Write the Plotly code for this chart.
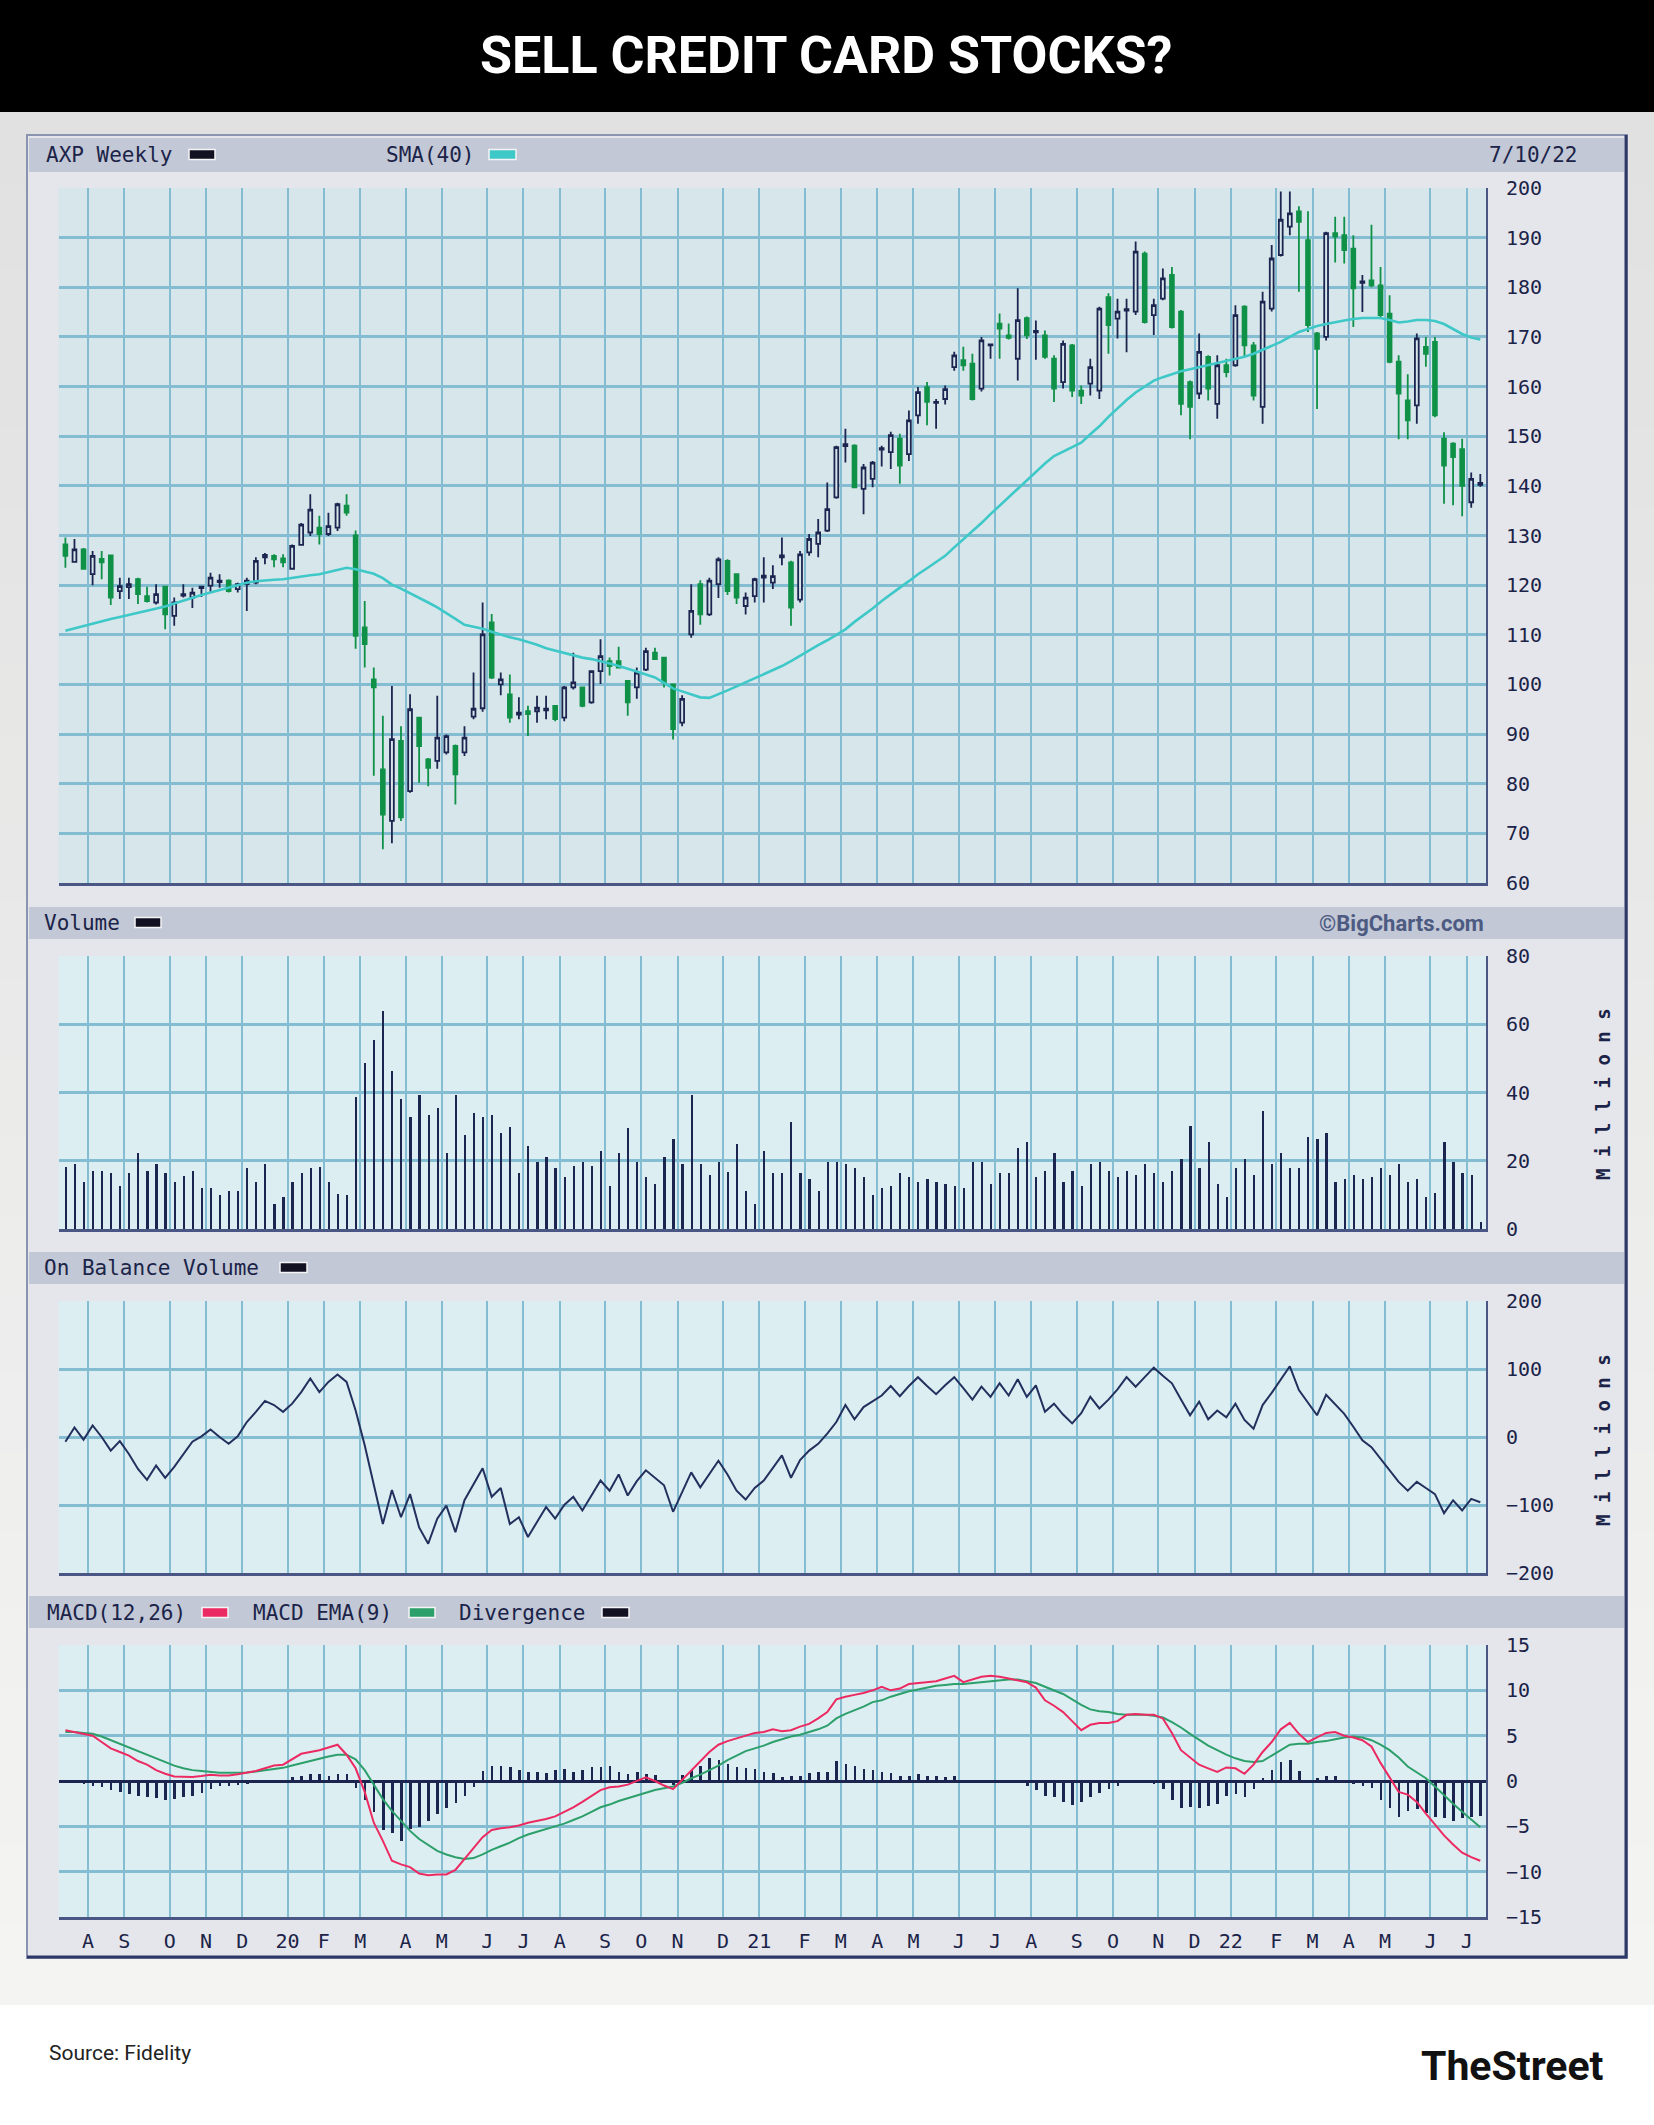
import plotly.graph_objects as go
import pandas as pd

W, H = 1654, 2125


def px(x):
    return x / W


def py(y):
    return 1 - y / H


# ---------------- data ----------------
weeks = pd.date_range("2019-07-14", "2022-07-10", freq="W-SUN")

open_ = [128.2,124.7,127.2,122.2,125.3,126.0,118.8,119.6,121.2,117.8,
         116.5,119.7,113.8,117.9,117.5,119.4,119.9,120.6,120.9,119.2,
         120.2,120.5,125.6,125.9,125.4,123.3,128.1,130.6,131.6,130.3,
         131.6,136.0,130.0,111.5,101.0,82.9,72.5,88.6,78.5,93.3,
         84.9,84.6,86.3,87.6,86.3,93.5,95.2,112.5,100.0,98.0,
         93.9,94.6,94.6,94.8,95.7,93.3,99.4,99.4,96.4,102.7,
         104.7,104.7,100.7,99.4,103.0,106.4,105.4,100.0,92.3,110.1,
         120.2,114.1,120.2,124.9,122.2,115.8,117.8,121.5,120.5,125.6,
         124.6,117.1,126.6,128.3,131.0,137.7,148.0,148.1,139.4,141.4,
         147.3,146.8,149.5,146.4,154.2,159.9,156.7,157.5,163.9,165.3,
         164.6,159.6,168.3,172.7,170.3,165.6,173.8,170.9,170.3,165.6,
         160.9,168.3,159.2,160.6,159.2,178.0,173.7,175.3,175.1,186.8,
         174.4,177.7,182.5,175.1,160.9,158.6,166.0,156.5,164.3,164.3,
         176.1,168.3,155.9,175.7,186.5,192.2,195.3,189.5,170.7,170.0,
         190.9,190.5,187.8,180.9,181.4,180.4,174.7,165.0,157.2,156.2,
         168.0,169.0,149.5,148.5,147.4,136.7,140.2]

high = [129.6,129.3,127.5,126.9,126.9,126.1,121.5,121.5,121.5,119.7,
        120.2,119.9,117.5,120.2,119.5,119.9,122.5,122.2,121.2,120.5,
        121.5,125.6,126.5,126.2,126.2,128.2,132.5,138.3,134.0,134.6,
        136.6,138.3,131.0,116.8,103.4,93.7,99.7,91.6,98.0,93.3,
        85.2,97.7,89.9,87.9,91.6,102.4,116.5,114.2,102.4,102.0,
        97.4,95.7,97.7,97.7,95.7,99.7,106.4,99.4,102.7,109.1,
        105.4,107.6,100.7,103.4,107.4,107.4,105.4,100.0,97.8,120.2,
        121.0,121.5,125.6,125.2,122.2,118.5,121.5,125.6,124.0,129.6,
        124.9,126.9,130.3,133.3,140.7,148.1,151.5,148.4,144.4,145.0,
        148.1,150.9,150.5,155.2,159.9,160.9,157.5,160.2,167.0,168.0,
        166.6,170.0,168.6,174.7,172.7,179.8,174.1,173.3,171.3,166.3,
        169.3,168.6,160.2,165.6,176.1,178.8,177.7,177.7,189.2,187.2,
        177.7,183.8,184.1,175.4,161.2,170.7,166.3,166.3,165.6,176.4,
        176.4,169.0,179.1,188.5,199.3,199.3,196.3,195.3,171.0,191.2,
        194.2,194.2,190.5,182.5,192.6,184.1,178.4,166.3,162.5,170.7,
        170.0,170.0,150.8,148.8,149.5,142.7,142.4]

low = [123.5,124.6,123.1,120.0,121.2,116.0,117.2,117.2,116.2,116.5,
       116.1,111.1,111.8,117.5,115.4,117.6,118.5,119.5,118.5,118.5,
       114.8,120.2,124.2,123.6,123.6,123.2,128.0,129.9,128.2,129.9,
       130.9,134.0,107.2,103.4,81.6,66.8,68.0,72.5,78.2,80.2,
       79.5,83.0,85.9,75.8,85.6,93.0,94.5,101.1,97.8,92.3,
       93.0,89.6,92.3,93.0,92.6,92.6,99.0,95.4,96.1,100.1,
       101.8,103.4,93.7,97.1,102.7,105.1,99.4,88.9,91.6,109.4,
       112.0,113.8,117.4,118.0,116.2,114.1,116.5,116.5,119.2,124.0,
       111.8,116.5,125.9,125.6,130.7,137.4,144.7,139.5,134.3,139.7,
       143.9,143.4,140.4,145.0,152.5,152.2,151.5,156.4,163.2,163.2,
       157.2,159.0,165.6,165.6,169.5,161.2,169.6,165.4,165.6,156.9,
       159.6,157.9,156.5,158.2,157.5,166.6,169.7,166.9,174.4,172.7,
       170.4,177.4,171.7,154.2,149.4,157.5,157.2,153.5,161.9,164.0,
       166.0,157.2,152.5,175.1,186.2,190.5,179.1,171.0,155.5,169.3,
       185.0,184.8,172.0,175.0,180.0,173.7,164.7,149.4,149.4,152.5,
       164.0,153.8,136.4,136.1,133.9,135.6,139.8]

close = [125.9,127.2,123.3,125.9,124.6,117.5,119.8,120.2,118.2,116.8,
         118.2,114.1,116.5,118.2,118.5,119.7,121.5,120.9,118.8,120.2,
         120.9,124.9,126.1,125.2,124.6,127.9,132.2,135.2,130.3,131.9,
         136.3,134.6,109.8,108.1,99.4,73.8,89.0,73.2,95.0,87.6,
         83.2,89.3,89.6,81.9,89.3,95.1,110.1,101.4,101.0,93.3,
         94.3,94.0,95.3,95.1,93.0,99.4,100.4,95.7,102.7,105.7,
         103.7,103.4,96.4,102.4,106.7,105.1,100.4,91.0,97.1,114.8,
         114.1,120.9,125.2,118.8,117.5,117.5,121.2,121.9,121.8,126.0,
         115.5,126.2,129.3,130.6,135.3,147.8,148.4,139.7,143.7,144.7,
         147.6,150.2,144.1,153.2,158.9,156.9,156.9,159.5,166.3,164.3,
         157.5,169.3,168.5,171.7,169.8,173.4,170.3,171.2,166.0,159.6,
         168.6,159.2,158.2,163.9,175.7,172.4,175.1,175.6,187.2,173.0,
         176.4,181.8,172.0,156.5,155.9,167.0,159.6,164.3,162.9,174.4,
         168.3,158.2,177.1,185.8,193.6,194.9,193.2,172.4,167.6,190.9,
         190.2,187.5,179.8,181.2,180.4,174.4,165.0,158.6,153.2,169.7,
         166.6,154.2,144.1,145.8,140.0,141.4,140.6]

sma40 = [110.8,111.3,111.8,112.3,112.8,113.2,113.6,114.0,114.4,114.8,
         115.3,115.7,116.3,116.9,117.5,118.0,118.5,119.0,119.6,120.1,
         120.5,120.8,121.0,121.1,121.2,121.5,121.8,122.0,122.2,122.6,
         123.1,123.5,123.2,122.8,122.3,121.4,120.1,119.3,118.4,117.5,
         116.5,115.5,114.4,113.2,112.0,111.6,111.2,110.6,110.0,109.5,
         109.1,108.6,108.0,107.3,106.8,106.3,105.8,105.4,105.1,104.7,
         104.2,103.7,103.2,102.6,102.0,101.4,100.3,99.2,98.6,98.0,
         97.4,97.3,98.0,98.8,99.6,100.4,101.3,102.1,102.9,103.7,
         104.7,105.8,106.9,107.9,108.9,110.0,111.1,112.6,113.9,115.3,
         116.8,118.2,119.5,120.8,122.2,123.4,124.6,125.9,127.6,129.2,
         130.9,132.5,134.3,136.0,137.8,139.6,141.3,142.9,144.5,146.0,
         146.9,147.8,148.7,150.4,152.0,153.9,155.7,157.3,158.8,160.0,
         161.2,161.9,162.5,163.1,163.5,163.9,164.3,164.7,165.1,165.5,
         166.0,166.6,167.4,168.2,169.0,170.0,171.0,171.6,172.2,172.6,
         173.0,173.3,173.6,173.8,173.8,173.8,173.4,172.9,173.1,173.4,
         173.4,173.2,172.6,171.6,170.6,169.9,169.5]

volume_m = [18.3,19,13.9,17,17,16.5,12.6,16.5,22.2,17.1,
            19,16.5,13.9,15.6,17.1,11.9,11.9,10,11.2,11.2,
            17.8,13.9,19,7.3,9.3,13.9,16.3,17.8,18.3,13.9,
            10.4,10,38.6,48.5,55.4,64,46.4,38,32.7,39.3,
            33.4,35.4,22.4,39.3,27.5,34.1,32.9,33.4,28.2,30,
            16.3,24.3,19.7,21,17.8,15.3,18.5,19.7,18.5,23,
            12.6,22.4,29.5,19.7,15.1,13.2,21,26.3,19,39.3,
            19,15.8,19.7,16.8,24.9,11.2,7.3,23,16.5,16.5,
            31.4,16.5,14.6,11.2,19.7,19.7,19,17.8,15.1,10,
            11.9,12.6,16.5,15.1,13.9,14.6,13.9,13.2,12.6,11.9,
            19.7,19.7,13.2,16.5,16.5,23.6,25.6,15.1,17.1,22.4,
            13.9,17.1,12.6,19,19.7,17.1,15.1,17.1,15.8,19,
            16.5,13.9,17.1,20.4,30.2,17.8,25.6,13.2,9.3,17.8,
            20.4,15.8,34.7,19,22.4,17.8,17.8,26.9,26.3,28.2,
            13.9,14.6,15.8,14.6,15.1,17.8,15.8,19,13.9,14.6,
            9.3,10.6,25.6,19.7,16.5,15.8,2.1]

obv_m = [-7,14,-4,17,0,-20,-6,-25,-47,-63,
         -42,-60,-44,-26,-7,1,11,0,-10,1,
         22,37,53,47,37,49,66,86,66,81,
         92,81,39,-12,-69,-128,-78,-118,-84,-133,
         -157,-120,-101,-140,-93,-69,-46,-88,-75,-128,
         -118,-147,-125,-103,-120,-100,-88,-108,-86,-64,
         -79,-55,-86,-65,-49,-60,-71,-110,-80,-52,
         -74,-55,-35,-55,-79,-92,-75,-64,-45,-27,
         -60,-34,-20,-10,5,22,47,26,44,52,
         61,75,60,75,88,75,63,76,88,72,
         55,74,59,79,61,85,59,76,37,49,
         33,20,35,59,42,55,70,88,74,88,
         102,90,79,55,32,52,26,39,29,49,
         25,12,47,65,85,104,69,50,32,62,
         48,34,15,-5,-15,-32,-50,-66,-79,-66,
         -75,-84,-112,-93,-108,-91,-96]

macd = [5.6,5.4,5.2,5.0,4.3,3.6,3.2,2.8,2.2,1.8,
        1.2,0.8,0.5,0.45,0.45,0.55,0.7,0.6,0.6,0.75,
        0.9,1.1,1.4,1.7,1.8,2.4,3.0,3.2,3.4,3.7,
        4.0,2.9,1.4,-1.2,-4.6,-6.6,-8.8,-9.2,-9.5,-10.2,
        -10.4,-10.3,-10.3,-9.8,-8.6,-7.3,-6.2,-5.4,-5.2,-5.1,
        -4.9,-4.6,-4.4,-4.2,-3.9,-3.4,-2.9,-2.3,-1.6,-1.0,
        -0.7,-0.6,-0.4,0.0,0.4,0.0,-0.5,-0.9,0.1,1.2,
        2.2,3.2,4.0,4.4,4.7,5.0,5.3,5.4,5.7,5.5,
        5.6,6.0,6.3,6.9,7.6,9.0,9.3,9.5,9.7,10.0,
        10.4,10.0,10.2,10.7,10.8,10.9,11.0,11.3,11.6,10.9,
        11.2,11.5,11.6,11.5,11.3,11.1,10.9,10.3,8.9,8.3,
        7.6,6.6,5.6,6.2,6.4,6.4,6.6,7.3,7.4,7.3,
        7.3,6.9,5.3,3.4,2.6,1.8,1.4,1.0,1.5,1.4,
        0.8,1.8,3.2,4.3,5.7,6.4,5.2,4.3,4.8,5.3,
        5.4,5.0,4.8,4.5,3.8,2.0,0.4,-1.2,-1.5,-2.3,
        -3.6,-4.8,-6.0,-7.0,-7.9,-8.4,-8.8]

macd_ema9 = [5.4,5.4,5.3,5.2,4.9,4.5,4.1,3.7,3.3,2.9,
             2.5,2.1,1.7,1.4,1.2,1.1,1.0,0.9,0.9,0.9,
             0.95,1.05,1.2,1.3,1.45,1.7,1.95,2.2,2.5,2.7,
             2.9,2.9,2.4,1.2,-0.4,-2.0,-3.3,-4.4,-5.5,-6.4,
             -7.1,-7.7,-8.1,-8.4,-8.6,-8.5,-8.1,-7.6,-7.2,-6.8,
             -6.3,-5.9,-5.6,-5.3,-5.0,-4.7,-4.3,-3.9,-3.4,-2.9,
             -2.6,-2.2,-1.9,-1.6,-1.3,-1.0,-0.8,-0.6,-0.2,0.3,
             0.7,1.2,1.7,2.3,2.8,3.3,3.6,3.9,4.3,4.6,
             4.9,5.1,5.4,5.7,6.1,6.9,7.4,7.8,8.2,8.7,
             8.9,9.3,9.6,9.9,10.1,10.3,10.5,10.6,10.7,10.7,
             10.8,10.9,11.0,11.1,11.2,11.2,11.0,10.8,10.4,10.0,
             9.6,9.0,8.4,7.9,7.7,7.6,7.4,7.3,7.3,7.3,
             7.2,7.0,6.5,5.9,5.2,4.5,3.9,3.4,2.9,2.5,
             2.2,2.1,2.2,2.8,3.4,4.0,4.1,4.1,4.3,4.4,
             4.6,4.8,4.9,4.8,4.5,4.0,3.4,2.6,1.6,0.9,
             0.3,-0.6,-1.6,-2.5,-3.4,-4.3,-5.1]

divergence = [0.0,-0.2,-0.3,-0.5,-0.7,-1.0,-1.2,-1.4,-1.6,-1.8,
              -1.9,-2.1,-2.0,-1.8,-1.6,-1.3,-0.9,-0.6,-0.5,-0.4,
              -0.3,0.0,0.0,0.0,0.1,0.4,0.6,0.8,0.8,0.6,
              0.8,0.8,-0.8,-2.1,-3.4,-5.4,-5.7,-6.6,-5.3,-5.1,
              -4.4,-3.6,-3.0,-2.4,-1.6,-0.7,1.1,1.6,1.7,1.5,
              1.2,1.0,1.0,0.9,1.2,1.3,1.0,1.2,1.5,1.5,
              1.6,1.0,0.8,1.0,0.8,0.7,0.1,-0.4,0.7,1.2,
              1.7,2.5,2.3,1.9,1.5,1.4,1.3,1.0,0.9,0.4,
              0.5,0.6,0.9,1.0,1.0,2.2,1.9,1.6,1.3,1.2,
              1.0,0.9,0.6,0.5,0.8,0.6,0.5,0.4,0.5,0.0,
              0.0,0.0,0.0,0.0,0.0,-0.2,-0.5,-1.0,-1.6,-1.8,
              -2.3,-2.7,-2.3,-1.8,-1.3,-0.9,-0.5,-0.2,-0.2,-0.1,
              -0.3,-0.9,-2.1,-3.0,-2.9,-3.0,-2.8,-2.5,-1.6,-1.4,
              -1.8,-0.9,0.3,1.2,2.1,2.3,1.1,-0.2,0.3,0.5,
              0.5,0.0,-0.3,-0.5,-0.8,-2.1,-3.0,-4.0,-3.3,-3.1,
              -3.5,-4.0,-4.1,-4.4,-4.1,-4.0,-3.9]

month_labels = ["A", "S", "O", "N", "D", "20", "F", "M", "A", "M", "J", "J",
                "A", "S", "O", "N", "D", "21", "F", "M", "A", "M", "J", "J",
                "A", "S", "O", "N", "D", "22", "F", "M", "A", "M", "J", "J"]

# ---------------- styling ----------------
NAVY = "#1b2550"
GREEN = "#0f9147"
TEAL = "#3ec8c8"
RED = "#ec2a62"
SIGG = "#2c9f6a"
GRID = "#84bdd1"
PRICE_BG = "#d7e6ea"
SUB_BG = "#ddeef2"
MONO = "DejaVu Sans Mono, monospace"
TXT = "#1b2348"
HEAVY = "Roboto, Liberation Sans, sans-serif"

# month gridlines: half a week before the first weekly bar of each month
wk = pd.Series(weeks)
firsts = wk.groupby([wk.dt.year, wk.dt.month]).min().sort_values().tolist()[1:]
grid_x = [d - pd.Timedelta(days=3.5) for d in firsts]
x_range = [weeks[0] - pd.Timedelta(days=5.25), weeks[-1] + pd.Timedelta(days=4.4)]

PL, PR = 58.6, 1486
panels = {"price": (188, 883), "vol": (956, 1229), "obv": (1301, 1573), "macd": (1645, 1917)}

fig = go.Figure()

fig.add_trace(go.Scatter(x=weeks, y=sma40, mode="lines", line=dict(color=TEAL, width=2.6),
                         xaxis="x", yaxis="y", showlegend=False, hoverinfo="skip"))
fig.add_trace(go.Candlestick(x=weeks, open=open_, high=high, low=low, close=close,
                             xaxis="x", yaxis="y", whiskerwidth=0, showlegend=False,
                             increasing=dict(line=dict(color=NAVY, width=1.8), fillcolor=PRICE_BG),
                             decreasing=dict(line=dict(color=GREEN, width=1.8), fillcolor=GREEN)))
bar_w = 1.7 * 86400000
fig.add_trace(go.Bar(x=weeks, y=volume_m, width=bar_w, marker=dict(color=NAVY, line=dict(width=0)),
                     xaxis="x2", yaxis="y2", showlegend=False))
fig.add_trace(go.Scatter(x=weeks, y=obv_m, mode="lines", line=dict(color="#22305e", width=2),
                         xaxis="x3", yaxis="y3", showlegend=False))
fig.add_trace(go.Bar(x=weeks, y=divergence, width=2.0 * 86400000, marker=dict(color=NAVY, line=dict(width=0)),
                     xaxis="x4", yaxis="y4", showlegend=False))
fig.add_trace(go.Scatter(x=weeks, y=macd_ema9, mode="lines", line=dict(color=SIGG, width=2),
                         xaxis="x4", yaxis="y4", showlegend=False))
fig.add_trace(go.Scatter(x=weeks, y=macd, mode="lines", line=dict(color=RED, width=2),
                         xaxis="x4", yaxis="y4", showlegend=False))


def xax(anchor, labels=False):
    d = dict(domain=[px(PL), px(PR)], anchor=anchor, type="date", range=x_range,
             tickmode="array", tickvals=grid_x, showgrid=True, gridcolor=GRID, gridwidth=1.6,
             zeroline=False, showline=True, linecolor="#4a5784", linewidth=3, ticks="",
             showticklabels=labels, fixedrange=True, automargin=False)
    if labels:
        d.update(ticktext=month_labels, tickfont=dict(family=MONO, size=20, color=TXT),
                 ticklabelstandoff=4)
    return d


def yax(anchor, key, rng, dtick, **kw):
    top, bot = panels[key]
    d = dict(domain=[py(bot), py(top)], anchor=anchor, range=rng, dtick=dtick, tick0=0,
             side="right", showgrid=True, gridcolor=GRID, gridwidth=2.6, zeroline=False,
             showline=True, linecolor="#4a5784", linewidth=2, ticks="",
             tickfont=dict(family=MONO, size=20, color=TXT), ticklabelstandoff=14,
             fixedrange=True, automargin=False)
    d.update(kw)
    return d


shapes = []
# gray backdrop with soft vertical gradient
N = 24
c0, c1 = (225, 225, 225), (244, 244, 243)
for k in range(N):
    t = k / (N - 1)
    col = "rgb(%d,%d,%d)" % tuple(round(a + (b - a) * t) for a, b in zip(c0, c1))
    y0 = 112 + k * (2004 - 112) / N
    y1 = 112 + (k + 1) * (2004 - 112) / N + 1
    shapes.append(dict(type="rect", xref="paper", yref="paper", x0=0, x1=1, y0=py(y1), y1=py(y0),
                       fillcolor=col, line=dict(width=0), layer="below"))
# title bar
shapes.append(dict(type="rect", xref="paper", yref="paper", x0=0, x1=1, y0=py(112), y1=1,
                   fillcolor="#000000", line=dict(width=0), layer="below"))
# chart panel
shapes.append(dict(type="rect", xref="paper", yref="paper", x0=px(27), x1=px(1627), y0=py(1958), y1=py(135),
                   fillcolor="#e5e6eb", line=dict(color="#8a93b0", width=2), layer="below"))
shapes.append(dict(type="line", xref="paper", yref="paper", x0=px(1626), x1=px(1626), y0=py(1958), y1=py(135),
                   line=dict(color="#2d3866", width=3), layer="below"))
shapes.append(dict(type="line", xref="paper", yref="paper", x0=px(27), x1=px(1627), y0=py(1957), y1=py(1957),
                   line=dict(color="#2d3866", width=3), layer="below"))
# header bands
for (a, b) in [(138, 172), (907, 939), (1252, 1284), (1596, 1628)]:
    shapes.append(dict(type="rect", xref="paper", yref="paper", x0=px(29), x1=px(1624), y0=py(b), y1=py(a),
                       fillcolor="#c2c8d5", line=dict(width=0), layer="below"))
# plot backgrounds
for key, col in [("price", PRICE_BG), ("vol", SUB_BG), ("obv", SUB_BG), ("macd", SUB_BG)]:
    top, bot = panels[key]
    shapes.append(dict(type="rect", xref="paper", yref="paper", x0=px(PL), x1=px(PR), y0=py(bot), y1=py(top),
                       fillcolor=col, line=dict(width=0), layer="below"))
# legend swatches
for (x0, x1, yc, col) in [(189, 215, 154.5, "#111122"), (489, 516, 154.5, TEAL), (135, 161, 922.5, "#111122"),
                          (280, 307, 1267.5, "#111122"), (202, 228, 1612.5, RED), (409, 435, 1612.5, SIGG),
                          (602, 629, 1612.5, "#111122")]:
    shapes.append(dict(type="rect", xref="paper", yref="paper", x0=px(x0), x1=px(x1), y0=py(yc + 5), y1=py(yc - 5),
                       fillcolor=col, line=dict(color="#f4f4f6", width=1.5), layer="above"))

ann = []


def text(x, y, s, size=21, family=MONO, color=TXT, xanchor="left", angle=0, yanchor="middle"):
    ann.append(dict(x=px(x), y=py(y), xref="paper", yref="paper", text=s, showarrow=False,
                    xanchor=xanchor, yanchor=yanchor, textangle=angle,
                    font=dict(family=family, size=size, color=color)))


text(826, 56, "<b>SELL CREDIT CARD STOCKS?</b>", size=52, family=HEAVY, color="#ffffff", xanchor="center")
text(44, 155, "AXP Weekly")
text(384, 155, "SMA(40)")
text(1580, 155, "7/10/22", xanchor="right")
text(42, 923, "Volume")
text(1486, 923, "<b>©BigCharts.com</b>", size=22, family="Roboto, DejaVu Sans, sans-serif",
     color="#4d5a82", xanchor="right")
text(42, 1268, "On Balance Volume")
text(45, 1613, "MACD(12,26)")
text(251, 1613, "MACD EMA(9)")
text(457, 1613, "Divergence")
text(1603, 1094, "<b>M i l l i o n s</b>", size=19, xanchor="center", angle=-90)
text(1603, 1440, "<b>M i l l i o n s</b>", size=19, xanchor="center", angle=-90)
text(47, 2053, "Source: Fidelity", size=21, family="Roboto, Open Sans, sans-serif", color="#222222")
text(1606, 2066, "<b>TheStreet</b>", size=41, family=HEAVY, color="#111111", xanchor="right")

fig.update_layout(
    width=W, height=H, margin=dict(l=0, r=0, t=0, b=0, pad=0, autoexpand=False),
    paper_bgcolor="#ffffff", plot_bgcolor="rgba(0,0,0,0)",
    boxgap=0.4, bargap=0, showlegend=False,
    xaxis=dict(**xax("y"), rangeslider=dict(visible=False)),
    xaxis2=xax("y2"), xaxis3=xax("y3"), xaxis4=xax("y4", labels=True),
    yaxis=yax("x", "price", [60, 200], 10),
    yaxis2=yax("x2", "vol", [0, 80], 20),
    yaxis3=yax("x3", "obv", [-200, 200], 100),
    yaxis4=yax("x4", "macd", [-15, 15], 5, zeroline=True, zerolinecolor=NAVY, zerolinewidth=3),
    shapes=shapes, annotations=ann,
)

fig.write_html("out.html",
               post_script="document.body.style.margin='0px';document.body.style.padding='0px';")
